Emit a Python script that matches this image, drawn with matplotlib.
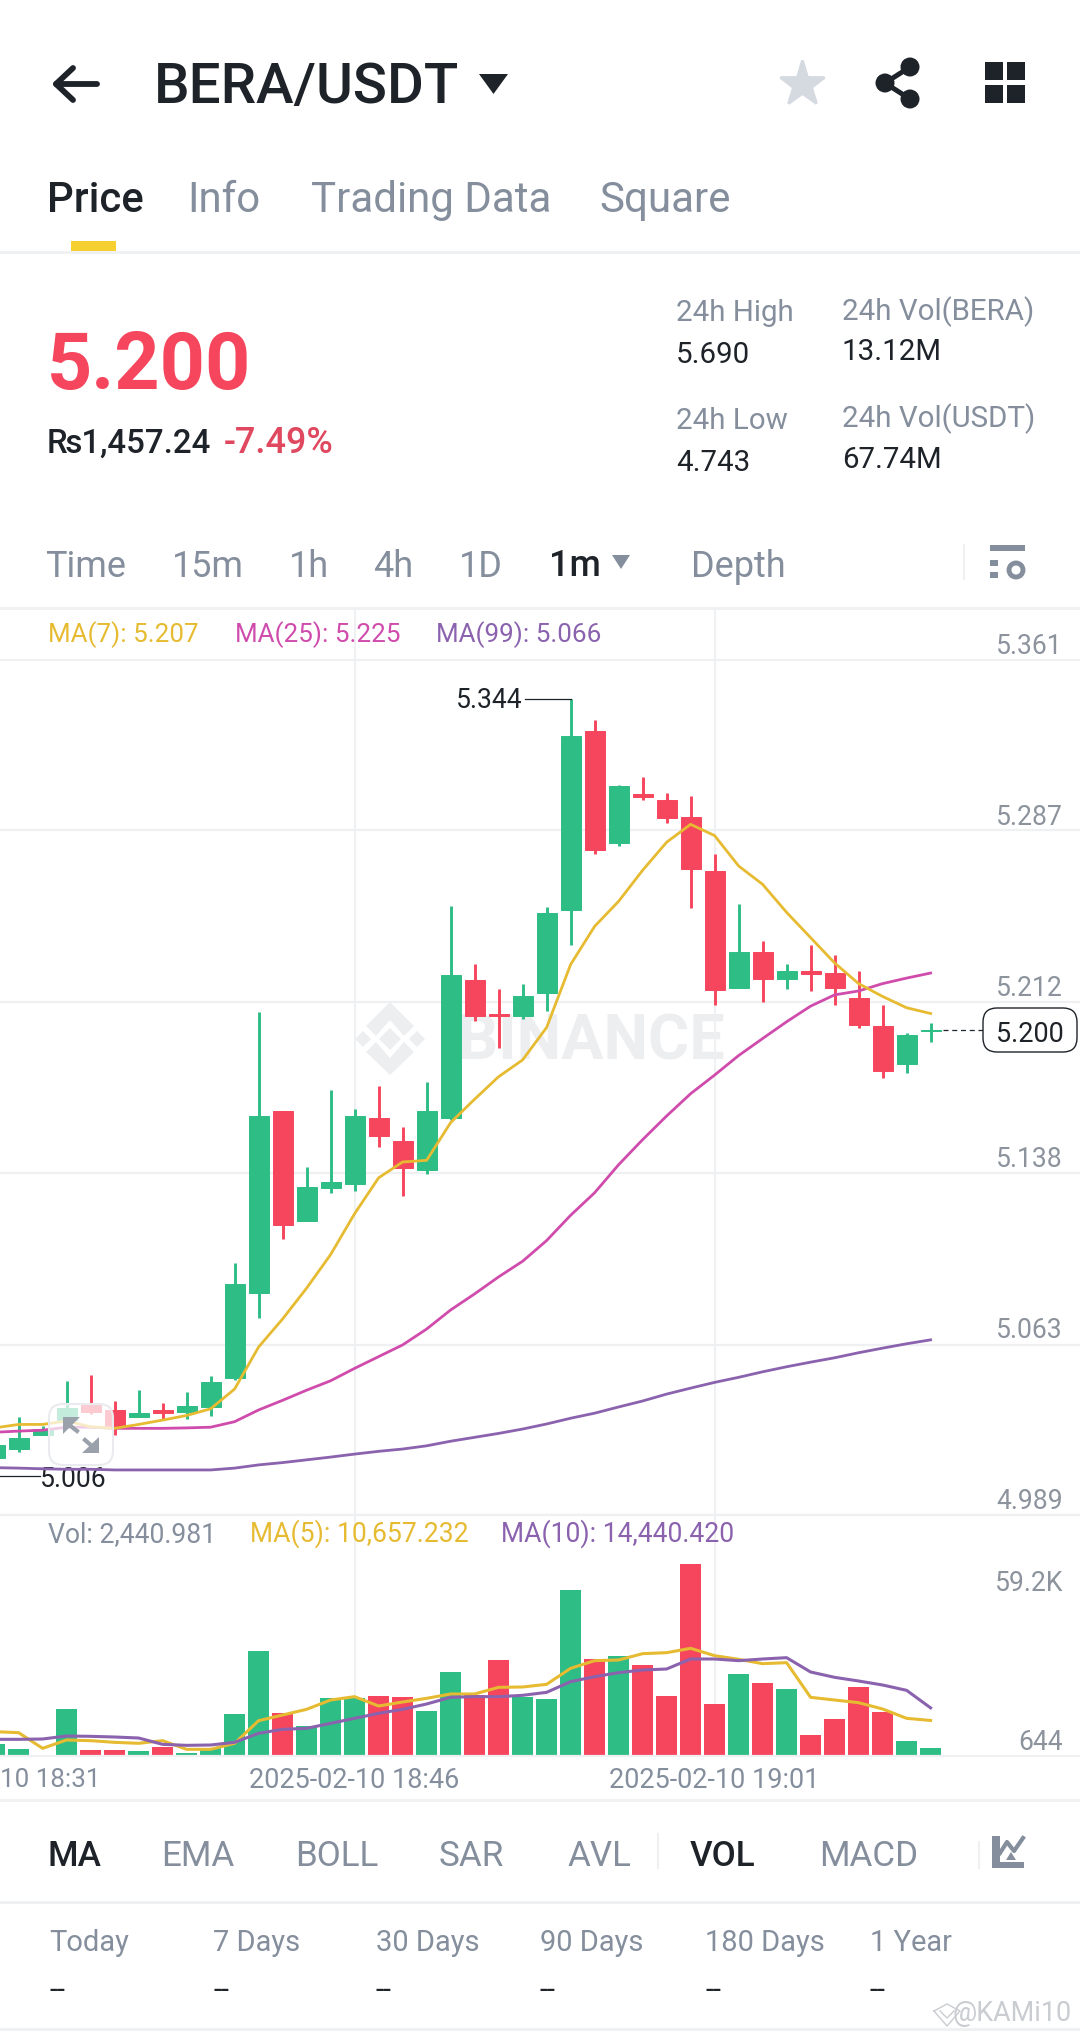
import matplotlib
matplotlib.use("Agg")
import matplotlib.pyplot as plt
from matplotlib.patches import FancyBboxPatch, Polygon, Rectangle, Circle

plt.rcParams['font.family'] = ['Roboto', 'Noto Sans', 'DejaVu Sans']

# candles, one minute each
opens = [5.0137, 5.0179, 5.0240, 5.0303, 5.0369, 5.0345, 5.0318, 5.0347, 5.0338, 5.0362,
         5.0486, 5.0857, 5.1648, 5.1170, 5.1311, 5.1331, 5.1616, 5.1516, 5.1389, 5.1619,
         5.2219, 5.2070, 5.2060, 5.2160, 5.2521, 5.3300, 5.2812, 5.3029, 5.3000, 5.2929,
         5.2690, 5.2182, 5.2338, 5.2221, 5.2255, 5.2248, 5.2138, 5.2016, 5.1853, 5.1997]
closes = [5.0194, 5.0225, 5.0262, 5.0357, 5.0340, 5.0272, 5.0335, 5.0333, 5.0364, 5.0467,
          5.0896, 5.1628, 5.1150, 5.1316, 5.1338, 5.1628, 5.1540, 5.1399, 5.1648, 5.2238,
          5.2060, 5.2060, 5.2148, 5.2509, 5.3280, 5.2782, 5.3061, 5.3012, 5.2922, 5.2702,
          5.2175, 5.2338, 5.2221, 5.2255, 5.2243, 5.2182, 5.2021, 5.1821, 5.1977, 5.2002]
highs = [5.0194, 5.0316, 5.0279, 5.0474, 5.0499, 5.0384, 5.0435, 5.0377, 5.0425, 5.0496,
         5.0987, 5.2080, 5.1648, 5.1406, 5.1738, 5.1658, 5.1758, 5.1577, 5.1775, 5.2538,
         5.2287, 5.2177, 5.2199, 5.2536, 5.3441, 5.3349, 5.3068, 5.3102, 5.3031, 5.3019,
         5.2768, 5.2548, 5.2387, 5.2287, 5.2368, 5.2326, 5.2255, 5.2107, 5.1987, 5.2031]
lows = [5.0137, 5.0164, 5.0240, 5.0303, 5.0328, 5.0238, 5.0318, 5.0308, 5.0308, 5.0320,
        5.0479, 5.0747, 5.1089, 5.1170, 5.1289, 5.1299, 5.1489, 5.1279, 5.1372, 5.1609,
        5.2041, 5.1921, 5.2050, 5.2085, 5.2370, 5.2768, 5.2802, 5.3000, 5.2902, 5.2531,
        5.2111, 5.2182, 5.2121, 5.2180, 5.2172, 5.2111, 5.2011, 5.1792, 5.1811, 5.1950]

ma7 = [5.0269, 5.0284, 5.0284, 5.0299, 5.0274, 5.0267, 5.0284, 5.0303, 5.0323, 5.0352,
       5.0438, 5.0621, 5.0743, 5.0877, 5.1023, 5.1201, 5.1357, 5.1426, 5.1433, 5.1597,
       5.1699, 5.1797, 5.1870, 5.2011, 5.2285, 5.2451, 5.2560, 5.2695, 5.2817, 5.2895,
       5.2846, 5.2714, 5.2634, 5.2512, 5.2402, 5.2292, 5.2202, 5.2146, 5.2097, 5.2072]
ma25 = [5.0250, 5.0255, 5.0259, 5.0272, 5.0272, 5.0267, 5.0267, 5.0267, 5.0269, 5.0272,
        5.0296, 5.0347, 5.0389, 5.0433, 5.0474, 5.0528, 5.0579, 5.0630, 5.0699, 5.0782,
        5.0852, 5.0926, 5.0994, 5.1084, 5.1194, 5.1292, 5.1414, 5.1523, 5.1626, 5.1723,
        5.1804, 5.1889, 5.1963, 5.2036, 5.2104, 5.2153, 5.2170, 5.2202, 5.2226, 5.2248]
ma99 = [5.0096, 5.0094, 5.0091, 5.0089, 5.0089, 5.0086, 5.0086, 5.0086, 5.0086, 5.0086,
        5.0094, 5.0108, 5.0118, 5.0130, 5.0142, 5.0155, 5.0167, 5.0177, 5.0191, 5.0211,
        5.0228, 5.0245, 5.0264, 5.0286, 5.0311, 5.0333, 5.0360, 5.0386, 5.0416, 5.0442,
        5.0467, 5.0489, 5.0513, 5.0535, 5.0555, 5.0574, 5.0596, 5.0616, 5.0635, 5.0652]

volume = [3500, 2200, 300, 14100, 1800, 1800, 1600, 2800, 1000, 2300,
          12700, 31500, 12800, 9000, 17400, 17400, 18100, 17600, 13500, 25100,
          18300, 28800, 17600, 17000, 49900, 29000, 30100, 27300, 18100, 57600,
          15700, 24600, 22000, 20000, 6400, 11100, 20700, 13100, 4500, 2440]
vol_ma5 = [7300, 7000, 2300, 4800, 4600, 4100, 3800, 4600, 2000, 2000,
           3800, 10600, 12300, 14000, 16800, 17800, 15000, 16200, 17300, 18600,
           18600, 20600, 20700, 21500, 26300, 28600, 28800, 30700, 31000, 32300,
           30100, 29000, 27700, 28000, 17600, 16800, 16000, 14100, 11300, 10657]
vol_ma10 = [5000, 5000, 5100, 6000, 5900, 5700, 5400, 3500, 3200, 3300,
            4100, 6800, 8000, 8300, 9800, 11300, 12800, 14000, 15600, 17600,
            17800, 17800, 18200, 19100, 22300, 23800, 25000, 25800, 26100, 29100,
            29100, 28600, 29100, 29500, 25200, 23600, 22500, 21300, 19700, 14440]

price_ticks = [5.361, 5.287, 5.212, 5.138, 5.063, 4.989]
price_labels = ['5.361', '5.287', '5.212', '5.138', '5.063', '4.989']
time_ticks = [15, 30]
time_labels = ['2025-02-10 18:46', '2025-02-10 19:01']

top_tabs = ['Price', 'Info', 'Trading Data', 'Square']
intervals = ['Time', '15m', '1h', '4h', '1D', '1m', 'Depth']
indicators = ['MA', 'EMA', 'BOLL', 'SAR', 'AVL', 'VOL', 'MACD']
periods = ['Today', '7 Days', '30 Days', '90 Days', '180 Days', '1 Year']

GREEN = '#2EBD85'
RED = '#F6465D'
YELLOW = '#E6BB32'
PINK = '#D04CAC'
PURPLE = '#8A62AE'
DARK = '#1E2329'
GREY = '#848E9C'
LIGHT = '#EEF0F2'
AXIS_GREY = '#8C939C'
W, H = 1080, 2035


def fs(px):
    return px * 0.72


def rect(y0, y1):
    return [0, 1 - y1 / H, 1, (y1 - y0) / H]


fig = plt.figure(figsize=(W / 100, H / 100), dpi=100, facecolor='white')

# watermark sits under the charts, everything else in pixels on top
bg = fig.add_axes([0, 0, 1, 1], zorder=0)
fg = fig.add_axes([0, 0, 1, 1], zorder=3)
for a in (bg, fg):
    a.set_xlim(0, W)
    a.set_ylim(H, 0)
    a.axis('off')


def label(x, y, s, size, color, ha='left', weight='normal', ax_=None):
    # roboto sits a bit high with va=center, push it down with the size
    (ax_ or fg).text(x, y + 0.08 * size, s, ha=ha, va='center', fontsize=fs(size), color=color, fontweight=weight)


colors = [GREEN if c >= o else RED for o, c in zip(opens, closes)]
xs = list(range(len(opens)))
xlim = (5.4 / 24, (W + 5.4) / 24)

# price pane
ax = fig.add_axes(rect(608, 1515), zorder=1)
ax.patch.set_alpha(0)
ax.set_xlim(*xlim)
ax.set_ylim(4.989, 5.361 + 52 * 0.372 / 855)
ax.axis('off')
ax.hlines(price_ticks, *xlim, color=LIGHT, lw=1.6, zorder=1)
for t in time_ticks:
    ax.axvline(t, color=LIGHT, lw=1.4, zorder=1)
ax.vlines(xs, lows, highs, color=colors, lw=2.1, zorder=3)
ax.bar(xs, [abs(c - o) for o, c in zip(opens, closes)], bottom=[min(o, c) for o, c in zip(opens, closes)],
       width=0.84, color=colors, edgecolor=colors, linewidth=0.7, zorder=3)
ax.plot(xs, ma99, color=PURPLE, lw=2.0, zorder=4)
ax.plot(xs, ma25, color=PINK, lw=2.0, zorder=4)
ax.plot(xs, ma7, color=YELLOW, lw=2.0, zorder=4)

# high/low and last price markers
ax.plot([22.1, 24], [highs[24], highs[24]], color=DARK, lw=0.9, zorder=4)
ax.text(22.0, highs[24] - 0.0008, '5.344', ha='right', va='center', fontsize=fs(26.5), color=DARK)
ax.plot([0, 1.9], [5.006, 5.006], color=DARK, lw=0.9, zorder=4)
ax.text(1.9, 5.0045, '5.006', ha='left', va='center', fontsize=fs(26.5), color=DARK)
ax.plot([39.5, 41.2], [closes[39], closes[39]], color=DARK, lw=0.9, dashes=(4, 3), zorder=4)

# volume pane
vx = fig.add_axes(rect(1516, 1756), zorder=1)
vx.patch.set_alpha(0)
vx.set_xlim(*xlim)
vx.set_ylim(0, 72000)
vx.axis('off')
for t in time_ticks:
    vx.axvline(t, color=LIGHT, lw=1.4, zorder=1)
vx.bar(xs, volume, width=0.86, color=colors, zorder=3)
vx.plot(xs, vol_ma5, color=YELLOW, lw=2.2, zorder=4)
vx.plot(xs, vol_ma10, color=PURPLE, lw=2.2, zorder=4)

# watermark
bg.text(591, 1042, 'BINANCE', ha='center', va='center', fontsize=fs(63), fontweight='bold', color='#EDEEF0')
wm_polys = [[(390, 1002), (414, 1026), (404, 1036), (390, 1020), (376, 1036), (366, 1026)],
            [(390, 1075), (414, 1052), (404, 1042), (390, 1058), (376, 1042), (366, 1052)],
            [(390, 1028), (401, 1039), (390, 1050), (379, 1039)],
            [(355, 1039), (363, 1031), (371, 1039), (363, 1047)],
            [(409, 1039), (417, 1031), (425, 1039), (417, 1047)]]
for p in wm_polys:
    bg.add_patch(Polygon(p, closed=True, fc='#EDEEF0', ec='none'))

# header
fg.plot([56, 97], [84, 84], color=DARK, lw=4.2, solid_capstyle='round')
fg.plot([73, 56, 73], [68, 84, 100], color=DARK, lw=4.2, solid_capstyle='round', solid_joinstyle='round')
label(154, 83, 'BERA/USDT', 56.5, DARK, weight='medium')
fg.add_patch(Polygon([(479, 74), (508, 74), (493.5, 94)], closed=True, fc=DARK, ec='none'))
fg.plot([802], [84], marker='*', ms=34, color='#D5D9E0', mec='#D5D9E0', mew=2)
fg.plot([910, 885, 910], [67, 83, 99], color=DARK, lw=3.6)
for cx, cy in [(910, 67), (885, 83), (910, 99)]:
    fg.add_patch(Circle((cx, cy), 9.5, fc=DARK, ec='none'))
for gx, gy in [(985, 62), (1007, 62), (985, 85), (1007, 85)]:
    fg.add_patch(Rectangle((gx, gy), 18, 18.5, fc=DARK, ec='none'))

# tabs
tab_x = [47, 187, 311, 599]
for i, t in enumerate(top_tabs):
    label(tab_x[i], 197, t, 42, DARK if i == 0 else GREY, weight='medium' if i == 0 else 'normal')
fg.add_patch(Rectangle((71, 241), 45, 10, fc='#F5D030', ec='none'))
fg.plot([0, W], [252.5, 252.5], color=LIGHT, lw=2)

# price block
label(47, 361, '5.200', 79, RED, weight='bold')
label(47, 441, '₨1,457.24', 33, DARK, weight='medium')
label(224, 441, '-7.49%', 36, '#E0485F', weight='medium')
label(676, 311, '24h High', 29.5, GREY)
label(676, 353, '5.690', 29.5, DARK)
label(676, 419, '24h Low', 29.5, GREY)
label(676, 461, '4.743', 29.5, DARK)
label(842, 309, '24h Vol(BERA)', 29.5, GREY)
label(842, 350, '13.12M', 29.5, DARK)
label(842, 416, '24h Vol(USDT)', 29.5, GREY)
label(842, 458, '67.74M', 29.5, DARK)

# interval row
int_x = [45, 172, 289, 373, 459, 549, 691]
for i, t in enumerate(intervals):
    label(int_x[i], 564, t, 36, DARK if t == '1m' else GREY, weight='medium' if t == '1m' else 'normal')
fg.add_patch(Polygon([(612, 555), (630, 555), (621, 569)], closed=True, fc=GREY, ec='none'))
fg.plot([963.5, 963.5], [545, 579], color=LIGHT, lw=1.5)
fg.add_patch(Rectangle((990, 545), 35, 6, fc=GREY, ec='none'))
fg.add_patch(Rectangle((990, 560), 8, 6, fc=GREY, ec='none'))
fg.add_patch(Rectangle((990, 572), 8, 6, fc=GREY, ec='none'))
fg.add_patch(Circle((1016, 570), 7, fc='none', ec=GREY, lw=3.5))
fg.plot([0, W], [608, 608], color=LIGHT, lw=2)

# MA legends
label(48, 632, 'MA(7): 5.207', 26, YELLOW)
label(235, 632, 'MA(25): 5.225', 26, PINK)
label(436, 632, 'MA(99): 5.066', 26, PURPLE)
label(48, 1532, 'Vol: 2,440.981', 26.5, GREY)
label(250, 1532, 'MA(5): 10,657.232', 26.5, YELLOW)
label(501, 1532, 'MA(10): 14,440.420', 26.5, PURPLE)

# axis labels on the right, they sit just above their grid lines
for i, lab in enumerate(price_labels):
    label(1063, 644 + i * 171, lab, 26.5, AXIS_GREY, ha='right')
label(1063, 1581, '59.2K', 26.5, AXIS_GREY, ha='right')
label(1063, 1740, '644', 26.5, AXIS_GREY, ha='right')

# last price pill
fg.add_patch(FancyBboxPatch((989, 1014), 82, 32, boxstyle='round,pad=6,rounding_size=14', fc='white', ec=DARK, lw=1.0))
label(1030, 1032, '5.200', 27, DARK, ha='center')

# floating zoom button over the left candles
fg.add_patch(FancyBboxPatch((57, 1412), 48, 45, boxstyle='round,pad=8,rounding_size=14', fc=(1, 1, 1, 0.72), ec='#E9EBEE', lw=1.5))
fg.add_patch(Polygon([(63, 1417), (80, 1417), (63, 1434)], closed=True, fc='#9AA1AB', ec='none'))
fg.plot([68, 77], [1424, 1431], color='#9AA1AB', lw=3)
fg.add_patch(Polygon([(99, 1453), (82, 1453), (99, 1437)], closed=True, fc='#9AA1AB', ec='none'))
fg.plot([85, 94], [1440, 1448], color='#9AA1AB', lw=3)

# time axis
fg.plot([0, W], [1515.5, 1515.5], color=LIGHT, lw=1.6)
fg.plot([0, W], [1756, 1756], color=LIGHT, lw=1.6)
fg.plot([0, W], [1800.5, 1800.5], color=LIGHT, lw=2)
label(100, 1778, '10 18:31', 26, GREY, ha='right')
for t, lab in zip(time_ticks, time_labels):
    label(-5.4 + 24 * t, 1778, lab, 27, GREY, ha='center')

# indicator row
ind_x = [48, 161, 295, 439, 567, 690, 819]
for i, t in enumerate(indicators):
    on = t in ('MA', 'VOL')
    label(ind_x[i], 1854, t, 35, DARK if on else GREY, weight='medium' if on else 'normal')
fg.plot([658, 658], [1834, 1868], color=LIGHT, lw=1.5)
fg.plot([979, 979], [1842, 1868], color=LIGHT, lw=1.5)
fg.add_patch(Rectangle((992, 1836), 8, 32, fc=GREY, ec='none'))
fg.add_patch(Rectangle((992, 1862), 32, 6, fc=GREY, ec='none'))
fg.plot([1000, 1007, 1014, 1023], [1853, 1842, 1851, 1838], color=GREY, lw=3)
fg.add_patch(Polygon([(1006, 1860), (1016, 1860), (1011, 1852)], closed=True, fc=GREY, ec='none'))
fg.plot([0, W], [1902, 1902], color=LIGHT, lw=2)

# period row
per_x = [49, 213, 376, 540, 705, 870]
for i, t in enumerate(periods):
    label(per_x[i], 1941, t, 29, GREY)
    label(per_x[i], 1989, '--', 29, DARK)
fg.plot([0, W], [2029, 2029], color=LIGHT, lw=2)

# repost mark bottom right
label(1072, 2011, '@KAMi10', 27, '#C9CCD1', ha='right')
fg.plot([934, 947, 960, 947, 934], [2011, 2026, 2011, 2004, 2011], color='#C9CCD1', lw=1)
fg.plot([940, 947, 954], [2011, 2018, 2011], color='#C9CCD1', lw=1)

fig.savefig('out.png', dpi=100, facecolor='white')
